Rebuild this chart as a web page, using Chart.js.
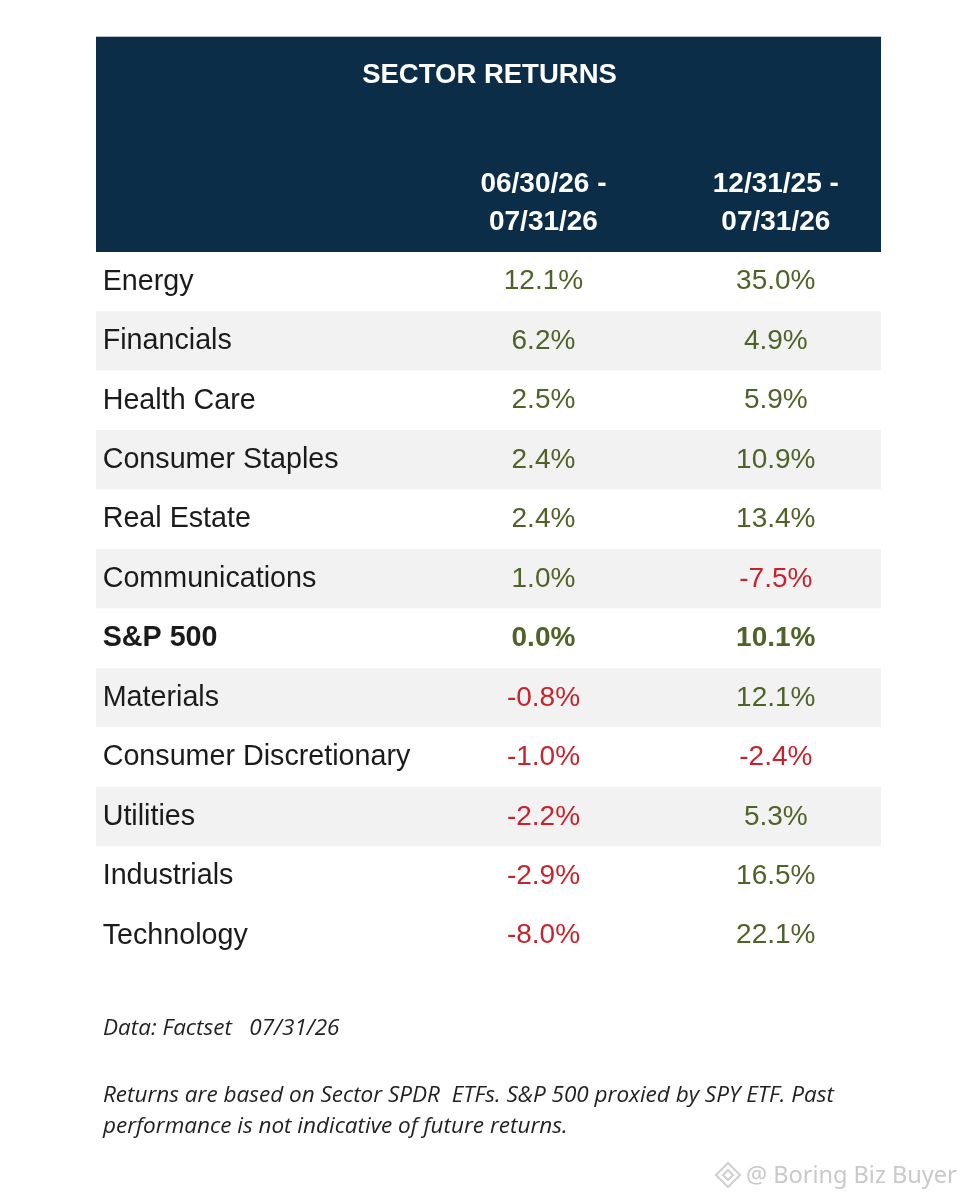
<!DOCTYPE html>
<html>
<head>
<meta charset="utf-8">
<title>Sector Returns</title>
<script src="https://cdn.jsdelivr.net/npm/chart.js@4/dist/chart.umd.min.js"></script>
<style>
    html, body { margin: 0; padding: 0; background: #fff; }
    #ctx_table { display: block; }
</style>
</head>
<body>
<canvas id="ctx_table" width="969" height="1200"></canvas>
<script>
// data
var sectors = ['Energy', 'Financials', 'Health Care', 'Consumer Staples', 'Real Estate', 'Communications',
    'S&P 500', 'Materials', 'Consumer Discretionary', 'Utilities', 'Industrials', 'Technology'];
var monthReturns = [12.1, 6.2, 2.5, 2.4, 2.4, 1.0, 0.0, -0.8, -1.0, -2.2, -2.9, -8.0];
var ytdReturns = [35.0, 4.9, 5.9, 10.9, 13.4, -7.5, 10.1, 12.1, -2.4, 5.3, 16.5, 22.1];
var tableTitle = 'SECTOR RETURNS';
var columnHeaders = [['06/30/26 -', '07/31/26'], ['12/31/25 -', '07/31/26']];
var boldRow = 'S&P 500';
var shadedRows = ['Financials', 'Consumer Staples', 'Communications', 'Materials', 'Utilities'];
var footNotes = ['Data: Factset   07/31/26',
    'Returns are based on Sector SPDR  ETFs. S&P 500 proxied by SPY ETF. Past',
    'performance is not indicative of future returns.'];
var watermark = '@ Boring Biz Buyer';

// x positions (in x-scale units 0..1) of label column and the two value columns
var COL_X = [0.0085, 0.570, 0.866];
var NAVY = '#0c2d48';
var GREEN = '#4f6228';
var RED = '#c8232c';
var FONT = '"Liberation Sans", Arial, sans-serif';

function fmtPct(v) {
    return v.toFixed(1) + '%';
}

var tablePlugin = {
    id: 'tablePlugin',
    beforeDraw: function (chart) {
        var c = chart.ctx;
        c.save();
        c.fillStyle = '#ffffff';
        c.fillRect(0, 0, chart.width, chart.height);
        c.restore();
    },
    afterDatasetsDraw: function (chart) {
        var c = chart.ctx;
        var xs = chart.scales.x;
        var ys = chart.scales.y;
        var area = chart.chartArea;

        // header band
        c.save();
        c.fillStyle = NAVY;
        c.fillRect(area.left, 36.7, area.right - area.left, area.top - 36.7);
        c.fillStyle = '#ffffff';
        c.textAlign = 'center';
        c.textBaseline = 'alphabetic';
        c.font = 'bold 27.5px ' + FONT;
        c.fillText(tableTitle, (area.left + area.right) / 2 + 1, 83);
        c.font = 'bold 28px ' + FONT;
        for (var k = 0; k < columnHeaders.length; k++) {
            var hx = xs.getPixelForValue(COL_X[k + 1]);
            c.fillText(columnHeaders[k][0], hx, 192);
            c.fillText(columnHeaders[k][1], hx, 230);
        }

        // rows
        c.textBaseline = 'middle';
        for (var i = 0; i < sectors.length; i++) {
            var y = ys.getPixelForValue(i);
            var weight = sectors[i] === boldRow ? 'bold ' : '';
            c.font = weight + '28.7px ' + FONT;
            c.textAlign = 'left';
            c.fillStyle = '#1b1b1b';
            c.fillText(sectors[i], xs.getPixelForValue(COL_X[0]), y);
            c.font = weight + '28px ' + FONT;
            c.textAlign = 'center';
            c.fillStyle = monthReturns[i] < 0 ? RED : GREEN;
            c.fillText(fmtPct(monthReturns[i]), xs.getPixelForValue(COL_X[1]), y);
            c.fillStyle = ytdReturns[i] < 0 ? RED : GREEN;
            c.fillText(fmtPct(ytdReturns[i]), xs.getPixelForValue(COL_X[2]), y);
        }
        c.restore();
    },
    afterDraw: function (chart) {
        var c = chart.ctx;
        c.save();
        c.fillStyle = '#222222';
        c.textAlign = 'left';
        c.textBaseline = 'alphabetic';
        c.font = 'italic 22.5px "Open Sans", sans-serif';
        c.fillText(footNotes[0], 103, 1035);
        c.fillText(footNotes[1], 103, 1102);
        c.fillText(footNotes[2], 103, 1133);

        // watermark
        c.strokeStyle = '#cfcfcf';
        c.lineWidth = 2;
        var cx = 728, cy = 1175;
        c.beginPath();
        c.moveTo(cx, cy - 12); c.lineTo(cx + 12, cy); c.lineTo(cx, cy + 12); c.lineTo(cx - 12, cy); c.closePath();
        c.stroke();
        c.beginPath();
        c.moveTo(cx, cy - 5); c.lineTo(cx + 5, cy); c.lineTo(cx, cy + 5); c.lineTo(cx - 5, cy); c.closePath();
        c.stroke();
        c.font = '23.5px "Noto Sans", sans-serif';
        c.fillStyle = '#c9c9c9';
        c.fillText(watermark, 746, 1183);
        c.restore();
    }
};

var ctx = document.getElementById('ctx_table');
window.sectorTable = new Chart(ctx, {
    type: 'bar',
    data: {
        labels: sectors,
        datasets: [{
            label: 'rows',
            // each row is a full-width band, some of them shaded
            data: sectors.map(function () { return [0, 1]; }),
            backgroundColor: sectors.map(function (s) { return shadedRows.indexOf(s) >= 0 ? '#f2f2f2' : '#ffffff'; }),
            borderWidth: 0,
            barPercentage: 1,
            categoryPercentage: 1
        }]
    },
    options: {
        indexAxis: 'y',
        responsive: false,
        animation: false,
        layout: { padding: { left: 96, right: 88, top: 252, bottom: 234.5 } },
        plugins: {
            legend: { display: false },
            tooltip: { enabled: false }
        },
        scales: {
            x: { type: 'linear', min: 0, max: 1, display: false },
            y: { type: 'category', display: false, offset: true }
        }
    },
    plugins: [tablePlugin]
});
</script>
</body>
</html>
